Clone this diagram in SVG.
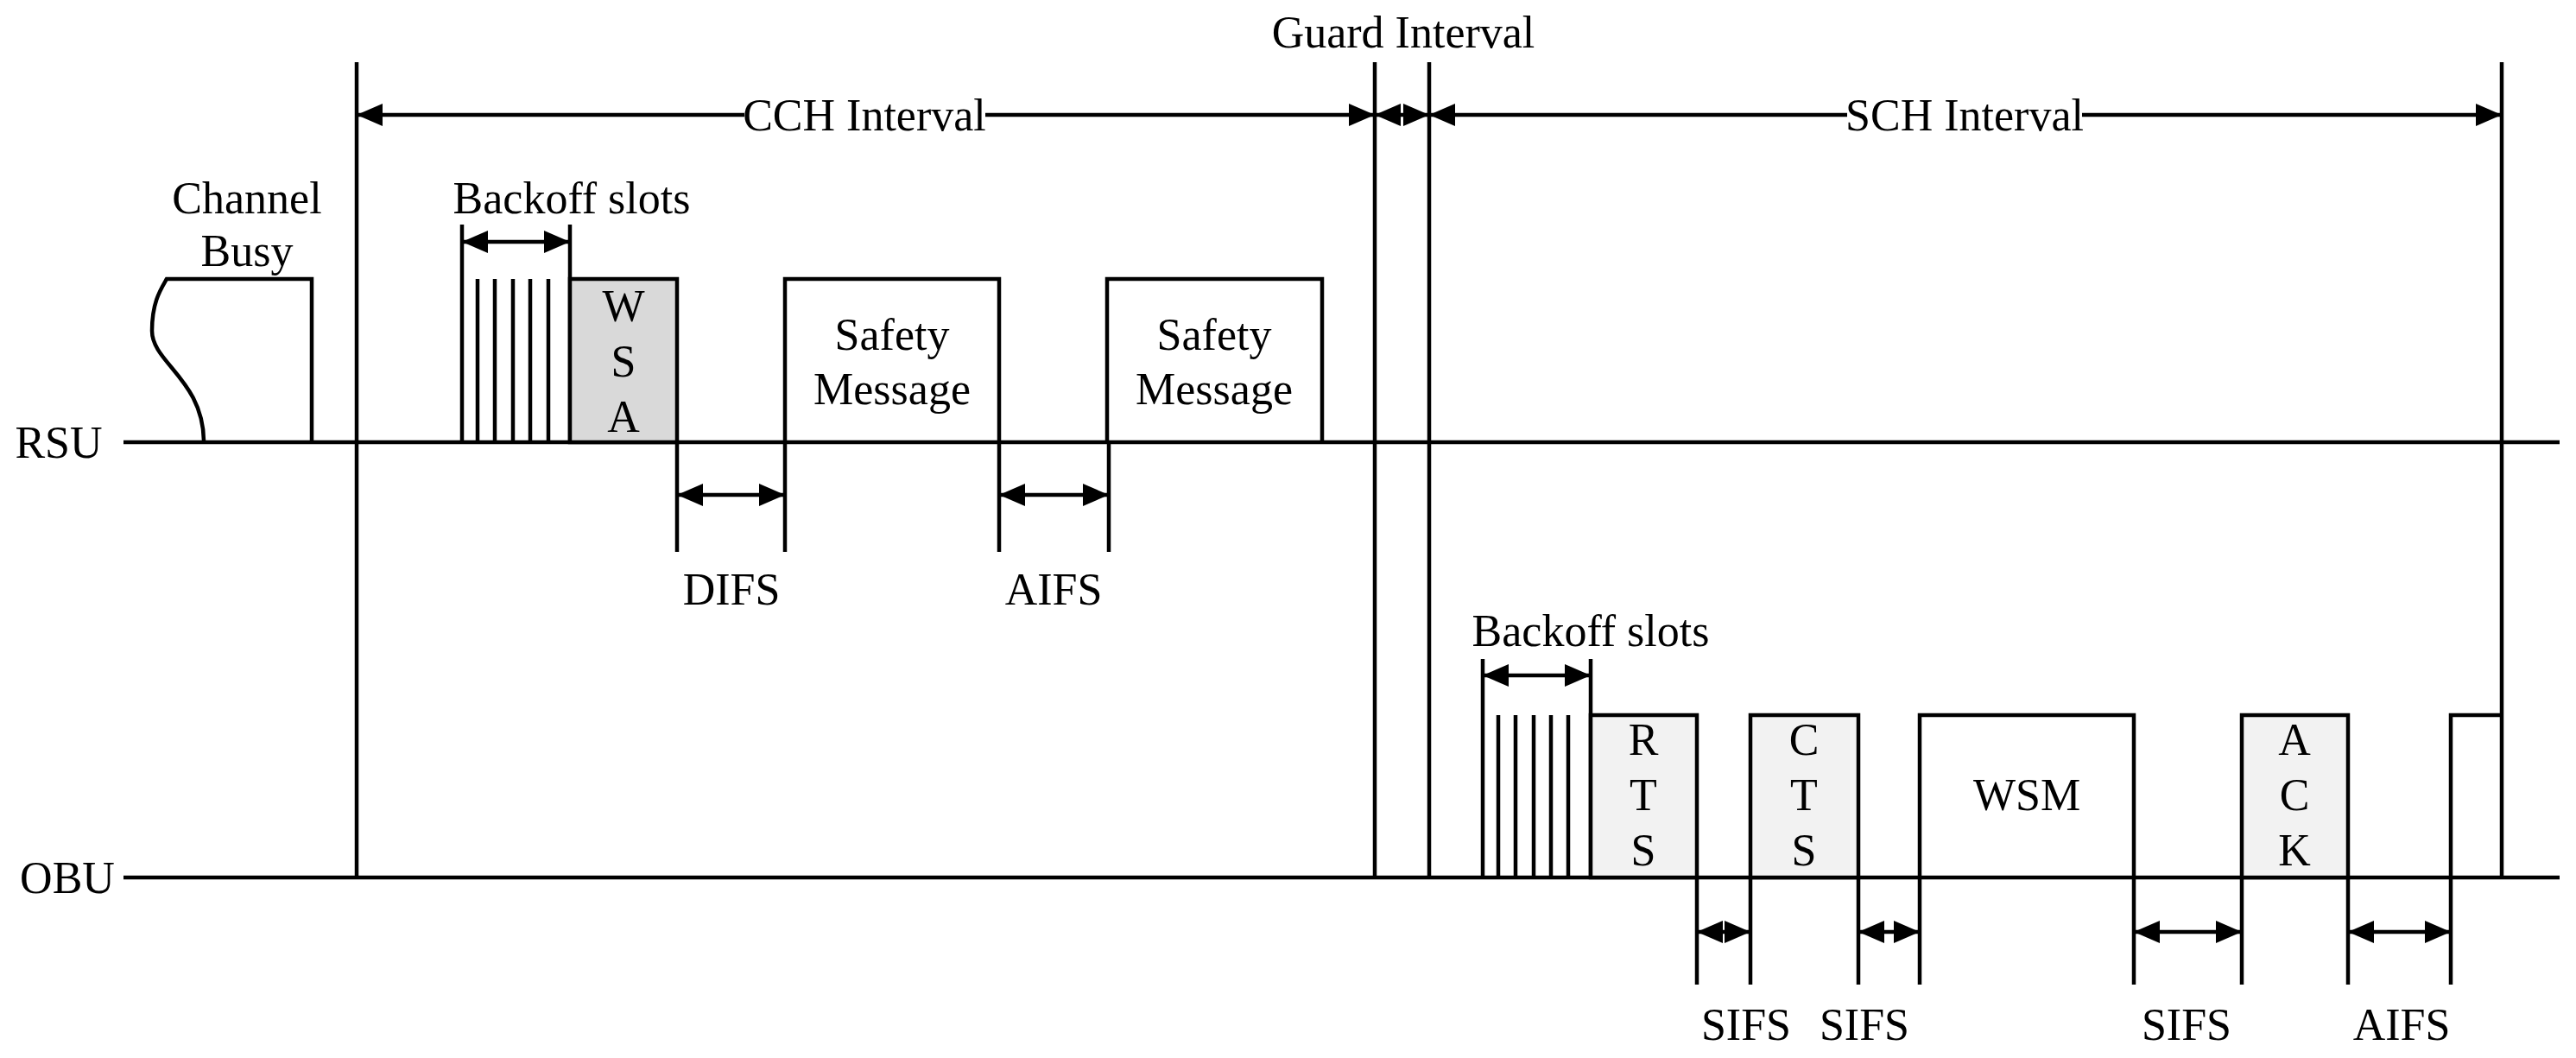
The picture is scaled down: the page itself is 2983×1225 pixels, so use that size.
<svg xmlns="http://www.w3.org/2000/svg" width="2983" height="1225" viewBox="0 0 2983 1225">
<style>
.l{stroke:#000;stroke-width:4.5;fill:none}
.b{stroke:#000;stroke-width:4.5}
.t{font-family:"Liberation Serif","Times New Roman",serif;font-size:52px;fill:#000;text-anchor:middle}
.a{stroke:#000;stroke-width:4.5;fill:none;marker-start:url(#ah);marker-end:url(#ah)}
</style>
<defs>
<marker id="ah" markerUnits="userSpaceOnUse" markerWidth="34" markerHeight="30" refX="30" refY="13" orient="auto-start-reverse"><path d="M0,0 L30,13 L0,26 z" fill="#000"/></marker>
<marker id="ae" markerUnits="userSpaceOnUse" markerWidth="34" markerHeight="30" refX="30" refY="13" orient="auto"><path d="M0,0 L30,13 L0,26 z" fill="#000"/></marker>
<marker id="as" markerUnits="userSpaceOnUse" markerWidth="34" markerHeight="30" refX="30" refY="13" orient="auto-start-reverse"><path d="M0,0 L30,13 L0,26 z" fill="#000"/></marker>
</defs>
<rect width="2983" height="1225" fill="#fff"/>
<g id="axes">
<line class="l" x1="143" y1="512" x2="2964" y2="512"/>
<line class="l" x1="143" y1="1016" x2="2964" y2="1016"/>
<text class="t" x="68" y="530">RSU</text>
<text class="t" x="78" y="1034">OBU</text>
<line class="l" x1="413" y1="72" x2="413" y2="1016"/>
<line class="l" x1="1592" y1="72" x2="1592" y2="1016"/>
<line class="l" x1="1655" y1="72" x2="1655" y2="1016"/>
<line class="l" x1="2897" y1="72" x2="2897" y2="1016"/>
</g>
<g id="connectors">
<line class="l" x1="413" y1="133" x2="862" y2="133" style="marker-start:url(#as)"/>
<line class="l" x1="1141" y1="133" x2="1592" y2="133" style="marker-end:url(#ae)"/>
<line class="a" x1="1592" y1="133" x2="1655" y2="133"/>
<line class="l" x1="1655" y1="133" x2="2139" y2="133" style="marker-start:url(#as)"/>
<line class="l" x1="2411" y1="133" x2="2897" y2="133" style="marker-end:url(#ae)"/>
<line class="a" x1="535" y1="280" x2="660" y2="280"/>
<line class="a" x1="784" y1="573" x2="909" y2="573"/>
<line class="a" x1="1157" y1="573" x2="1284" y2="573"/>
<line class="a" x1="1717" y1="782" x2="1842" y2="782"/>
<line class="a" x1="1965" y1="1079" x2="2027" y2="1079"/>
<line class="a" x1="2152" y1="1079" x2="2223" y2="1079"/>
<line class="a" x1="2471" y1="1079" x2="2596" y2="1079"/>
<line class="a" x1="2719" y1="1079" x2="2838" y2="1079"/>
</g>
<g id="labels">
<text class="t" x="1001" y="151">CCH Interval</text>
<text class="t" x="1625" y="55">Guard Interval</text>
<text class="t" x="2275" y="151">SCH Interval</text>
</g>
<g id="channel-busy">
<path class="l" d="M236,512 C236,440 176,420 176,383 C176,350 186,335 193,323 L361,323 L361,512"/>
<text class="t" x="286" y="247">Channel</text>
<text class="t" x="286" y="308">Busy</text>
</g>
<g id="backoff-rsu">
<text class="t" x="662" y="247">Backoff slots</text>
<path class="l" d="M535,260 V512 M660,260 V512 M553,323 V512 M573,323 V512 M594,323 V512 M614,323 V512 M635,323 V512"/>
</g>
<g id="wsa">
<rect class="b" x="660" y="323" width="124" height="189" fill="#d9d9d9"/>
<text class="t" x="722" y="372">W</text>
<text class="t" x="722" y="436">S</text>
<text class="t" x="722" y="500">A</text>
</g>
<g id="safety1">
<path class="l" d="M909,512 V323 H1157 V512"/>
<text class="t" x="1033" y="405">Safety</text>
<text class="t" x="1033" y="468">Message</text>
</g>
<g id="safety2">
<path class="l" d="M1282,512 V323 H1531 V512"/>
<text class="t" x="1406" y="405">Safety</text>
<text class="t" x="1406" y="468">Message</text>
</g>
<g id="difs">
<path class="l" d="M784,512 V639 M909,512 V639"/>
<text class="t" x="847" y="700">DIFS</text>
</g>
<g id="aifs1">
<path class="l" d="M1157,512 V639 M1284,512 V639"/>
<text class="t" x="1220" y="700">AIFS</text>
</g>
<g id="backoff-obu">
<text class="t" x="1842" y="748">Backoff slots</text>
<path class="l" d="M1717,763 V1016 M1842,763 V1016 M1735,828 V1016 M1755,828 V1016 M1776,828 V1016 M1796,828 V1016 M1816,828 V1016"/>
</g>
<g id="rts">
<rect class="b" x="1842" y="828" width="123" height="188" fill="#f2f2f2"/>
<text class="t" x="1903" y="874">R</text>
<text class="t" x="1903" y="938">T</text>
<text class="t" x="1903" y="1002">S</text>
</g>
<g id="cts">
<rect class="b" x="2027" y="828" width="125" height="188" fill="#f2f2f2"/>
<text class="t" x="2089" y="874">C</text>
<text class="t" x="2089" y="938">T</text>
<text class="t" x="2089" y="1002">S</text>
</g>
<g id="wsm">
<path class="l" d="M2223,1016 V828 H2471 V1016"/>
<text class="t" x="2347" y="938">WSM</text>
</g>
<g id="ack">
<rect class="b" x="2596" y="828" width="123" height="188" fill="#f2f2f2"/>
<text class="t" x="2657" y="874">A</text>
<text class="t" x="2657" y="938">C</text>
<text class="t" x="2657" y="1002">K</text>
</g>
<g id="last">
<path class="l" d="M2838,1016 V828 H2897"/>
</g>
<g id="gaps">
<path class="l" d="M1965,1016 V1140 M2027,1016 V1140 M2152,1016 V1140 M2223,1016 V1140 M2471,1016 V1140 M2596,1016 V1140 M2719,1016 V1140 M2838,1016 V1140"/>
<text class="t" x="2022" y="1204">SIFS</text>
<text class="t" x="2159" y="1204">SIFS</text>
<text class="t" x="2532" y="1204">SIFS</text>
<text class="t" x="2781" y="1204">AIFS</text>
</g>
</svg>
